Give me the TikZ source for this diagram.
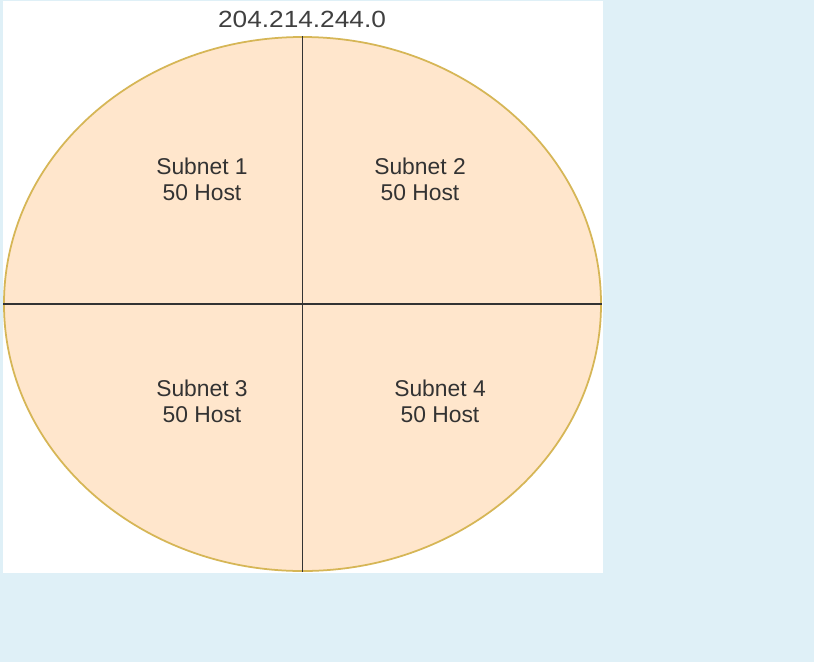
\documentclass[tikz,border=0pt]{standalone}
\usepackage{fontspec}
\setmainfont{Liberation Sans}
\usetikzlibrary{shapes.geometric}

\definecolor{pagebg}{HTML}{DFF0F7}
\definecolor{netfill}{HTML}{FFE6CC}
\definecolor{netdraw}{HTML}{D6B656}
\definecolor{divline}{HTML}{333333}

\tikzset{
	sublabel/.style={align=center,font=\fontsize{19.5}{22}\selectfont,text=black!80}
}

\begin{document}
\begin{tikzpicture}[x=0.03cm,y=-0.03cm]
	\fill[pagebg] (0,0) rectangle (814,662);
	\fill[white] (3,1) rectangle (603,573);
	\node[shape=ellipse,draw=netdraw,fill=netfill,line width=1.5pt,inner sep=0pt,minimum width=17.91cm,minimum height=16.02cm] (net) at (302.5,304) {};
	\draw[divline,line width=1.4pt] (net.north) -- (net.south);
	\draw[divline,line width=1.4pt] (net.west) -- (net.east);
	\node[font=\fontsize{20}{22}\selectfont,text=black!75,xscale=1.12] (addr) at (302,19) {204.214.244.0};
	\node[sublabel] (s1) at (202,179) {Subnet 1\\50 Host};
	\node[sublabel] (s2) at (420,179) {Subnet 2\\50 Host};
	\node[sublabel] (s3) at (202,401) {Subnet 3\\50 Host};
	\node[sublabel] (s4) at (440,401) {Subnet 4\\50 Host};
\end{tikzpicture}
\end{document}
